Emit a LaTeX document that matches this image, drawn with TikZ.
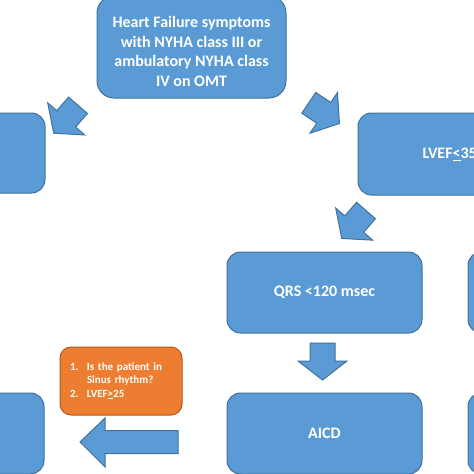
\documentclass[tikz,border=0pt]{standalone}
\usepackage{fontspec}
\setmainfont{Carlito}
\usepackage{xcolor}
\definecolor{Sky}{HTML}{5B9BD5}
\definecolor{SkyEdge}{HTML}{41719C}
\definecolor{Amber}{HTML}{ED7D31}
\definecolor{AmberEdge}{HTML}{AE5A21}
\usetikzlibrary{positioning}

\begin{document}
\begin{tikzpicture}[x=1pt,y=-1pt,
  box/.style={draw=SkyEdge,fill=Sky,line width=1pt,rounded corners=13.5pt,minimum width=195pt,minimum height=81pt,inner sep=0pt,text=white,font=\bfseries\fontsize{16}{19.5}\selectfont,align=center},
  ask/.style={draw=AmberEdge,fill=Amber,line width=1pt,rounded corners=11pt,minimum width=122pt,minimum height=68pt,inner sep=0pt,text width=102pt,align=left,text=white,font=\bfseries\fontsize{11}{13.5}\selectfont},
  blk/.style={draw=SkyEdge,fill=Sky,line width=1pt},
  blkarrow/.pic={\path[blk] (0,-12.5)--(18,-12.5)--(18,-24.5)--(37,0)--(18,24.5)--(18,12.5)--(0,12.5)--cycle;}]
\useasboundingbox (0,0) rectangle (474,474);
\clip (0,0) rectangle (474,474);
\node[box,minimum width=189pt,minimum height=102pt,rounded corners=17pt] (hf) at (191.5,47) {\rule{0pt}{20pt}Heart Failure symptoms\\with NYHA class III or\\ambulatory NYHA class\\IV on OMT};
\node[box,minimum height=80pt] (lft) at (-52.5,153) {};
\node[box,minimum height=82pt] (lvef) at (455.5,154) {LVEF\underline{<}35\%};
\node[box] (qrs) at (324.5,292.5) {QRS <120 msec};
\node[box,right=45pt of qrs] (rgt) {};
\node[box,below=59pt of qrs] (aicd) {AICD};
\node[box,right=45pt of aicd] (rgtb) {};
\node[box,left=182pt of aicd] (lftb) {};
\node[ask] (sinus) at (121,381) {\begin{tabular}{@{}p{17pt}@{}l@{}}1.&Is the patient in\\&Sinus rhythm?\\2.&LVEF\underline{>}25\end{tabular}};
\pic[rotate=229] at (78,105.3) {blkarrow};
\pic[rotate=-34] at (308.8,102.8) {blkarrow};
\pic[rotate=229] at (366,210.5) {blkarrow};
\pic[rotate=-90] at (322.5,343) {blkarrow};
\path[blk] (178,430.5)--(105,430.5)--(105,418)--(80,442)--(105,467)--(105,453.5)--(178,453.5)--cycle;
\end{tikzpicture}
\end{document}
